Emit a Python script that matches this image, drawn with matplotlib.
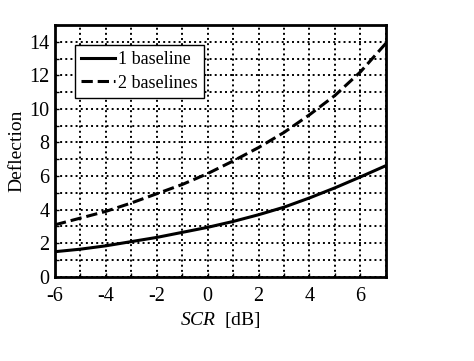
import matplotlib.pyplot as plt

plt.rcParams['font.family'] = ['Liberation Serif', 'DejaVu Serif']
plt.rcParams['mathtext.fontset'] = 'custom'
plt.rcParams['mathtext.it'] = 'Liberation Serif:italic'
plt.rcParams['mathtext.rm'] = 'Liberation Serif'

# Datos
scr = [-6, -5, -4, -3, -2, -1, 0, 1, 2, 3, 4, 5, 6, 7]
una_linea = [1.5, 1.65, 1.85, 2.1, 2.35, 2.65, 2.95, 3.3, 3.7, 4.15, 4.7, 5.3, 5.95, 6.62]
dos_lineas = [3.1, 3.5, 3.9, 4.4, 4.95, 5.5, 6.15, 6.9, 7.7, 8.6, 9.65, 10.8, 12.2, 13.9]

fig = plt.figure(figsize=(4.74, 3.61), dpi=100)
ax = fig.add_axes([0.116, 0.233, 0.698, 0.698])

ax.plot(scr, una_linea, 'k-', lw=2.2, label='1 baseline')
ax.plot(scr, dos_lineas, 'k--', lw=2.2, label='2 baselines')

ax.set_xlim(-6, 7)
ax.set_ylim(0, 15)
ax.set_xticks(range(-6, 7, 2))
ax.set_xticklabels(['-6', '-4', '-2', '0', '2', '4', '6'])
ax.set_yticks(range(0, 15, 2))
ax.set_xticks(range(-6, 8), minor=True)
ax.set_yticks(range(0, 16), minor=True)
ax.grid(True, which='both', color='k', linestyle=':', lw=1.4)
ax.tick_params(which='both', direction='in', labelsize=14.5, length=3, width=1)
ax.tick_params(axis='y', pad=4)
ax.tick_params(axis='x', pad=7)
for s in ax.spines.values():
    s.set_linewidth(2)

ax.set_xlabel(r'$SCR$  [dB]', fontsize=14, labelpad=3)
ax.set_ylabel('Deflection', fontsize=14, labelpad=3)

leg = ax.legend(loc='upper left', bbox_to_anchor=(0.06, 0.92), fontsize=13,
                fancybox=False, edgecolor='k', framealpha=1, borderpad=0.35,
                handlelength=1.9, handletextpad=0.15, labelspacing=0.35,
                borderaxespad=0)
leg.get_frame().set_linewidth(1)

fig.savefig('out.png', dpi=100)
